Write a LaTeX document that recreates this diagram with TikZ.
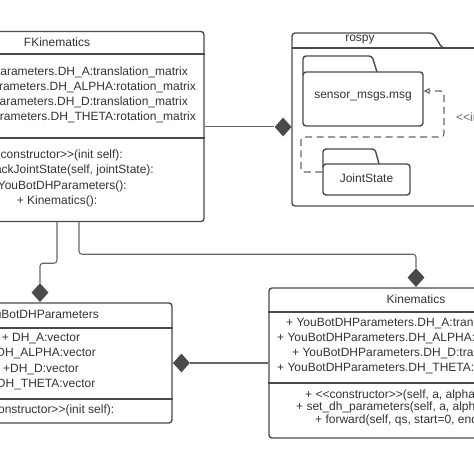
\documentclass[tikz,border=0pt]{standalone}
\usepackage{fontspec}
\setmainfont{Liberation Sans}
\usetikzlibrary{shapes.geometric,arrows.meta}
\definecolor{edgec}{HTML}{4A4A4A}
\definecolor{connc}{HTML}{666666}
\definecolor{txtc}{HTML}{333333}
\newcommand{\ltlt}{<\kern0pt<}
\newcommand{\gtgt}{>\kern0pt>}
\begin{document}
\begin{tikzpicture}[x=1pt,y=-1pt,
  umlbox/.style={draw=edgec,line width=1.4pt,rounded corners=3pt,inner sep=0pt},
  sepline/.style={draw=edgec,line width=1.2pt},
  lbl/.style={text=txtc,inner sep=0pt,font=\fontsize{12}{14}\selectfont},
  pkgline/.style={draw=edgec,line width=1.4pt,rounded corners=3pt,line join=round},
  dia/.style={diamond,fill=edgec,draw=none,inner sep=0pt,minimum width=17pt,minimum height=19pt},
  connl/.style={draw=connc,line width=1.1pt,rounded corners=3pt},
  depl/.style={draw=connc,line width=1.1pt,dash pattern=on 7pt off 4.5pt,rounded corners=3pt,
    -{Triangle[open,length=6pt,width=6pt]}}
]
\useasboundingbox (0,0) rectangle (474,474);
\clip (0,0) rectangle (474,474);

% ---------- FKinematics ----------
\node[umlbox,minimum width=294pt,minimum height=190pt] (fk) at (57,126.5) {};
\draw[sepline] (fk.west |- 0,54) -- (fk.east |- 0,54);
\draw[sepline] (fk.west |- 0,138) -- (fk.east |- 0,138);
\node[lbl] (fkt) at (57,42) {FKinematics};
\node[lbl,anchor=east] (fka1) at (188,72.5) {+ YouBotDHParameters.DH\_A:translation\_matrix};
\node[lbl,anchor=east] (fka2) at (196,87.5) {+ YouBotDHParameters.DH\_ALPHA:rotation\_matrix};
\node[lbl,anchor=east] (fka3) at (188,102.5) {+ YouBotDHParameters.DH\_D:translation\_matrix};
\node[lbl,anchor=east] (fka4) at (196,117.5) {+ YouBotDHParameters.DH\_THETA:rotation\_matrix};
\node[lbl,anchor=east] (fkm1) at (123,155) {+ \ltlt constructor\gtgt(init self):};
\node[lbl,anchor=east] (fkm2) at (154,170.5) {+ callbackJointState(self, jointState):};
\node[lbl,anchor=east] (fkm3) at (127,186) {+ YouBotDHParameters():};
\node[lbl] (fkm4) at (57,201.5) {+ Kinematics():};

% ---------- YouBotDHParameters ----------
\node[umlbox,minimum width=264pt,minimum height=120pt] (yb) at (40,363) {};
\draw[sepline] (yb.west |- 0,328) -- (yb.east |- 0,328);
\draw[sepline] (yb.west |- 0,399) -- (yb.east |- 0,399);
\node[lbl] (ybt) at (40,314) {YouBotDHParameters};
\node[lbl] (yba1) at (41,339) {+ DH\_A:vector};
\node[lbl] (yba2) at (41,354) {+ DH\_ALPHA:vector};
\node[lbl] (yba3) at (41,369.5) {+DH\_D:vector};
\node[lbl] (yba4) at (41,385) {+ DH\_THETA:vector};
\node[lbl] (ybm1) at (41,410.5) {+ \ltlt constructor\gtgt(init self):};

% ---------- Kinematics ----------
\node[umlbox,minimum width=294pt,minimum height=150pt] (kin) at (416,363) {};
\draw[sepline] (kin.west |- 0,312) -- (kin.east |- 0,312);
\draw[sepline] (kin.west |- 0,383) -- (kin.east |- 0,383);
\node[lbl] (kint) at (416,299) {Kinematics};
\node[lbl,anchor=west] (kina1) at (286,323) {+ YouBotDHParameters.DH\_A:translation\_matrix};
\node[lbl,anchor=west] (kina2) at (277,338) {+ YouBotDHParameters.DH\_ALPHA:rotation\_matrix};
\node[lbl,anchor=west] (kina3) at (292,353) {+ YouBotDHParameters.DH\_D:translation\_matrix};
\node[lbl,anchor=west] (kina4) at (277,368) {+ YouBotDHParameters.DH\_THETA:rotation\_matrix};
\node[lbl,anchor=west] (kinm1) at (305,395) {+ \ltlt constructor\gtgt(self, a, alpha, d, theta):};
\node[lbl,anchor=west] (kinm2) at (296,407.5) {+ set\_dh\_parameters(self, a, alpha, d, theta):};
\node[lbl,anchor=west] (kinm3) at (315,420) {+ forward(self, qs, start=0, end=5):};

% ---------- rospy package ----------
\node[minimum width=300pt,minimum height=158pt,inner sep=0pt] (rospy) at (442,127) {};
\draw[pkgline] (442,48) -- (433,33) -- (292,33) -- (292,206) -- (600,206) -- (600,48) -- cycle;
\draw[pkgline] (292,48) -- (600,48);
\node[lbl] (rospyt) at (360,40) {rospy};

\node[umlbox,minimum width=120pt,minimum height=54pt] (sm) at (363,99) {};
\draw[pkgline] (303,75) -- (303,56) -- (372,56) -- (377,72);
\node[lbl] (smt) at (363,97) {sensor\_msgs.msg};

\node[umlbox,minimum width=87pt,minimum height=31pt] (js) at (366.5,179.5) {};
\draw[pkgline] (323,167) -- (323,149) -- (375,149) -- (379,164);
\node[lbl] (jst) at (366.5,178) {JointState};

\draw[depl] ([yshift=7.5pt]js.west) -| (301,137) -| (444,91) -- ([yshift=8pt]sm.east);
\node[lbl,anchor=west,text=connc] (imp) at (456,118) {\ltlt import\gtgt};

% ---------- diamonds and connectors ----------
\node[dia,anchor=south] (d1) at (yb.north) {};
\node[dia,anchor=south] (d2) at (kin.north) {};
\node[dia,anchor=east] (d3) at (rospy.west) {};
\node[dia,anchor=west] (d4) at (yb.east) {};

\draw[connl] (fk.south) -- ++(0,41) -| (d1.north);
\draw[connl] ([xshift=22pt]fk.south) -- ++(0,32) -| (d2.north);
\draw[connl] (fk.east) -- (fk.east -| d3.west);
\draw[connl] (d4.east) -- (kin.west);
\end{tikzpicture}
\end{document}
